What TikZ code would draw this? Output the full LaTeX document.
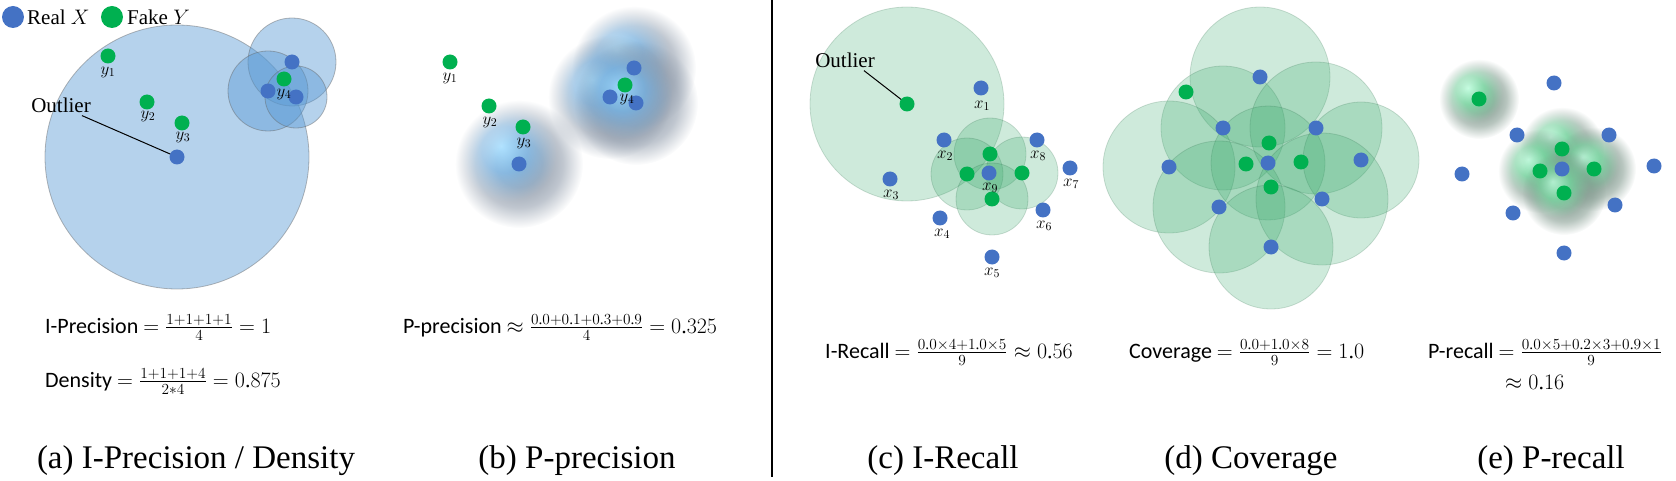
\RequirePackage{fix-cm}
\documentclass[tikz,border=0pt]{standalone}
\usepackage{fontspec}
\setmainfont{Liberation Serif}
\newfontfamily\calfont{Carlito}
\usepackage{tikz}
\usetikzlibrary{fadings}

% serif digits in the score formulas
\DeclareSymbolFont{numfont}{TU}{\rmdefault}{m}{n}
\DeclareMathSymbol{0}{\mathalpha}{numfont}{`0}
\DeclareMathSymbol{1}{\mathalpha}{numfont}{`1}
\DeclareMathSymbol{2}{\mathalpha}{numfont}{`2}
\DeclareMathSymbol{3}{\mathalpha}{numfont}{`3}
\DeclareMathSymbol{4}{\mathalpha}{numfont}{`4}
\DeclareMathSymbol{5}{\mathalpha}{numfont}{`5}
\DeclareMathSymbol{6}{\mathalpha}{numfont}{`6}
\DeclareMathSymbol{7}{\mathalpha}{numfont}{`7}
\DeclareMathSymbol{8}{\mathalpha}{numfont}{`8}
\DeclareMathSymbol{9}{\mathalpha}{numfont}{`9}
\DeclareMathSymbol{.}{\mathord}{numfont}{`.}

\definecolor{realblue}{RGB}{68,114,196}
\definecolor{fakegreen}{RGB}{0,176,80}
\definecolor{ballblue}{RGB}{91,155,213}
\definecolor{ballgreen}{RGB}{60,170,110}
\definecolor{coreblue}{RGB}{160,220,255}
\definecolor{midblue}{RGB}{120,175,220}
\definecolor{rimblue}{RGB}{140,152,168}
\definecolor{coregreen}{RGB}{185,252,218}
\definecolor{midgreen}{RGB}{115,208,155}
\definecolor{rimgreen}{RGB}{125,150,138}

% soft blobs for the P-precision / P-recall panels
\pgfdeclareradialshading{blueblob}{\pgfpoint{-7bp}{7bp}}{color(0bp)=(coreblue); color(9bp)=(midblue); color(19bp)=(rimblue); color(25bp)=(rimblue); color(50bp)=(rimblue)}
\pgfdeclareradialshading{greenblob}{\pgfpoint{-7bp}{7bp}}{color(0bp)=(coregreen); color(9bp)=(midgreen); color(19bp)=(rimgreen); color(25bp)=(rimgreen); color(50bp)=(rimgreen)}
\pgfdeclareradialshading{blobfadeshade}{\pgfpointorigin}{color(0bp)=(pgftransparent!5); color(9bp)=(pgftransparent!15); color(17bp)=(pgftransparent!45); color(25bp)=(pgftransparent!100); color(50bp)=(pgftransparent!100)}
\pgfdeclarefading{blobfade}{\pgfuseshading{blobfadeshade}}

\tikzset{
  realpt/.style={fill=realblue},
  fakept/.style={fill=fakegreen},
  bball/.style={fill=ballblue, fill opacity=0.45, draw=gray!80!black, draw opacity=0.45, line width=0.8pt},
  gball/.style={fill=ballgreen, fill opacity=0.25, draw=ballgreen!60!black, draw opacity=0.2, line width=0.8pt},
  bblob/.style={shading=blueblob, path fading=blobfade},
  gblob/.style={shading=greenblob, path fading=blobfade},
  lbl/.style={font=\fontsize{17}{19}\selectfont, inner sep=0pt},
  legtext/.style={font=\fontsize{21}{25}\selectfont, inner sep=0pt, anchor=west},
  formula/.style={font=\calfont\fontsize{22}{26}\selectfont, inner sep=0pt, anchor=base west},
  subcap/.style={font=\fontsize{33}{38}\selectfont, inner sep=0pt, anchor=base}
}

\begin{document}
\begin{tikzpicture}[x=1pt,y=-1pt]
\useasboundingbox (0,0) rectangle (1676,481);

% Legend
\coordinate (leg-x) at (13,17);
\coordinate (leg-y) at (112,17);
\fill[realpt] (leg-x) circle[radius=11];
\node[legtext] (leg-xt) at (27,17) {Real $X$};
\fill[fakept] (leg-y) circle[radius=11];
\node[legtext] (leg-yt) at (127,17) {Fake $Y$};

% ---------- (a) I-Precision / Density ----------
\foreach \n/\px/\py in {0/177/157, 1/292/62, 2/268/91, 3/296/97}
  \coordinate (a-x\n) at (\px,\py);
\foreach \n/\px/\py in {1/108/56, 2/147/102, 3/182/123, 4/284/79}
  \coordinate (a-y\n) at (\px,\py);

% Draw k-NN balls of the real samples
\foreach \n/\r in {0/132, 1/44, 2/40, 3/31}
  \filldraw[bball] (a-x\n) circle[radius=\r];

% Outlier pointer
\node[legtext, anchor=center] (a-out) at (61,105) {Outlier};
\draw[line width=1pt] ([xshift=-9pt,yshift=-3pt]a-out.south east) -- (a-x0);

% Draw samples
\foreach \n in {0,...,3}
  \fill[realpt] (a-x\n) circle[radius=7.5];
\foreach \n in {1,...,4}
  \fill[fakept] (a-y\n) circle[radius=7.5];
\foreach \n/\px/\py in {1/108/72, 2/148/116, 3/183/137, 4/284/94}
  \node[lbl] (a-ly\n) at (\px,\py) {$y_{\n}$};

% ---------- (b) P-precision ----------
\foreach \n/\px/\py in {0/519/164, 1/634/68, 2/610/97, 3/636/103}
  \coordinate (b-x\n) at (\px,\py);
\foreach \n/\px/\py in {1/450/62, 2/489/106, 3/523/127, 4/625/85}
  \coordinate (b-y\n) at (\px,\py);

% Draw soft supports of the real samples
\shade[bblob] (b-x0) circle[radius=64];
\foreach \n in {1,2,3}
  \shade[bblob] (b-x\n) circle[radius=62];

\foreach \n in {0,...,3}
  \fill[realpt] (b-x\n) circle[radius=7.5];
\foreach \n in {1,...,4}
  \fill[fakept] (b-y\n) circle[radius=7.5];
\foreach \n/\px/\py in {1/450/78, 2/490/122, 3/524/143, 4/627/99}
  \node[lbl] (b-ly\n) at (\px,\py) {$y_{\n}$};

% Divider between precision and recall
\coordinate (sep-top) at (772,0);
\coordinate (sep-bot) at (772,477);
\draw[line width=1.4pt] (sep-top) -- (sep-bot);

% ---------- (c) I-Recall ----------
\foreach \n/\px/\py in {1/981/88, 2/944/140, 3/890/179, 4/940/218, 5/992/257, 6/1043/210, 7/1070/168, 8/1037/140, 9/989/173}
  \coordinate (c-x\n) at (\px,\py);
\foreach \n/\px/\py in {0/907/104, 1/990/154, 2/967/174, 3/1022/173, 4/992/199}
  \coordinate (c-y\n) at (\px,\py);

% Draw k-NN balls of the fake samples
\filldraw[gball] (c-y0) circle[radius=97];
\foreach \n in {1,...,4}
  \filldraw[gball] (c-y\n) circle[radius=36];

\node[legtext, anchor=center] (c-out) at (845,60) {Outlier};
\draw[line width=1pt] ([xshift=-11pt,yshift=-3pt]c-out.south east) -- (c-y0);

\foreach \n in {1,...,9}
  \fill[realpt] (c-x\n) circle[radius=7.5];
\foreach \n in {0,...,4}
  \fill[fakept] (c-y\n) circle[radius=7.5];
\foreach \n/\px/\py in {1/982/106, 2/945/156, 3/891/195, 4/942/234, 5/992/273, 6/1044/226, 7/1071/184, 8/1038/156, 9/990/188}
  \node[lbl] (c-lx\n) at (\px,\py) {$x_{\n}$};

% ---------- (d) Coverage ----------
\foreach \n/\px/\py in {1/1260/77, 2/1223/128, 3/1316/128, 4/1169/167, 5/1268/163, 6/1361/160, 7/1219/207, 8/1322/199, 9/1271/247}
  \coordinate (d-x\n) at (\px,\py);
\foreach \n/\px/\py in {0/1186/92, 1/1269/143, 2/1246/164, 3/1301/162, 4/1271/187}
  \coordinate (d-y\n) at (\px,\py);

% Draw k-NN balls of the real samples
\foreach \n/\r in {1/70, 2/62, 3/66, 4/66, 5/57, 6/58, 7/66, 8/66, 9/62}
  \filldraw[gball] (d-x\n) circle[radius=\r];

\foreach \n in {1,...,9}
  \fill[realpt] (d-x\n) circle[radius=7.5];
\foreach \n in {0,...,4}
  \fill[fakept] (d-y\n) circle[radius=7.5];

% ---------- (e) P-recall ----------
\foreach \n/\px/\py in {1/1554/83, 2/1517/135, 3/1609/135, 4/1462/174, 5/1562/169, 6/1654/166, 7/1513/213, 8/1615/205, 9/1564/253}
  \coordinate (e-x\n) at (\px,\py);
\foreach \n/\px/\py in {0/1479/99, 1/1562/149, 2/1540/171, 3/1594/169, 4/1564/193}
  \coordinate (e-y\n) at (\px,\py);

% Draw soft supports of the fake samples
\shade[gblob] (e-y0) circle[radius=40];
\foreach \n in {1,...,4}
  \shade[gblob] (e-y\n) circle[radius=42];

\foreach \n in {1,...,9}
  \fill[realpt] (e-x\n) circle[radius=7.5];
\foreach \n in {0,...,4}
  \fill[fakept] (e-y\n) circle[radius=7.5];

% Scores
\node[formula] (f-iprec) at (45,333) {I-Precision $= \frac{1+1+1+1}{4} = 1$};
\node[formula] (f-dens) at (45,387) {Density $= \frac{1+1+1+4}{2*4} = 0.875$};
\node[formula] (f-pprec) at (403,333) {P-precision $\approx \frac{0.0+0.1+0.3+0.9}{4} = 0.325$};
\node[formula] (f-irec) at (825,358) {I-Recall $= \frac{0.0\times4+1.0\times5}{9} \approx 0.56$};
\node[formula] (f-cov) at (1129,358) {Coverage $= \frac{0.0+1.0\times8}{9} = 1.0$};
\node[formula] (f-prec) at (1428,358) {P-recall $= \frac{0.0\times5+0.2\times3+0.9\times1}{9}$};
\node[formula] (f-prec2) at (1505,389) {$\approx 0.16$};

% Sub-captions
\node[subcap] (cap-a) at (196,468) {(a) I-Precision / Density};
\node[subcap] (cap-b) at (577,468) {(b) P-precision};
\node[subcap] (cap-c) at (943,468) {(c) I-Recall};
\node[subcap] (cap-d) at (1251,468) {(d) Coverage};
\node[subcap] (cap-e) at (1551,468) {(e) P-recall};
\end{tikzpicture}
\end{document}
